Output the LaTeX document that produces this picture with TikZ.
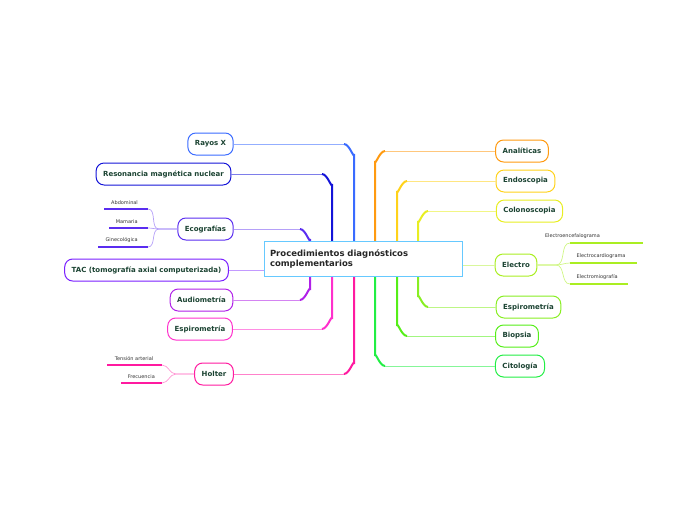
\documentclass[tikz,border=0pt]{standalone}
\usepackage{fontspec}
\setmainfont{DejaVu Sans}
\begin{document}
\begin{tikzpicture}[x=1pt,y=-1pt,
  box/.style={draw,line width=1pt,rounded corners=8pt,fill=white,minimum height=22pt,inner xsep=7pt,font=\bfseries\fontsize{7}{8}\selectfont,text=txt,anchor=center},
  sub/.style={font=\fontsize{5}{6}\selectfont,text=black!80},
  thin/.style={line width=0.7pt},
  trunk/.style={line width=2pt}]
\definecolor{txt}{HTML}{1B4332}
\definecolor{cA}{HTML}{3A6BFF}\definecolor{cB}{HTML}{1414D8}\definecolor{cC}{HTML}{5A2DF0}
\definecolor{cD}{HTML}{7A1FFF}\definecolor{cE}{HTML}{B020E8}\definecolor{cF}{HTML}{FF30CC}
\definecolor{cG}{HTML}{FF1AA0}
\definecolor{dA}{HTML}{FF9A10}\definecolor{dB}{HTML}{FFD21A}\definecolor{dC}{HTML}{E8EE22}
\definecolor{dD}{HTML}{AAEE22}\definecolor{dE}{HTML}{88EE22}\definecolor{dF}{HTML}{55EE18}
\definecolor{dG}{HTML}{22EE44}
\useasboundingbox (0,0) rectangle (697,520);
% left nodes
\node[box,draw=cA] (rx) at (210.5,144) {Rayos X};
\node[box,draw=cB] (rm) at (163.5,174) {Resonancia magnética nuclear};
\node[box,draw=cC] (ec) at (205.5,229) {Ecografías};
\node[box,draw=cD] (tac) at (146.5,270) {TAC (tomografía axial computerizada)};
\node[box,draw=cE] (au) at (201.5,300) {Audiometría};
\node[box,draw=cF] (el) at (200,329) {Espirometría};
\node[box,draw=cG] (ho) at (214,374) {Holter};
% right nodes
\node[box,draw=dA] (an) at (522,151) {Analíticas};
\node[box,draw=dB] (en) at (525.5,181) {Endoscopia};
\node[box,draw=dC] (co) at (529.5,211) {Colonoscopia};
\node[box,draw=dD] (ele) at (516,265) {Electro};
\node[box,draw=dE] (er) at (528.5,307) {Espirometría};
\node[box,draw=dF] (bi) at (517,336) {Biopsia};
\node[box,draw=dG] (ci) at (520,366) {Citología};
% left connectors
\draw[thin,cA!55] (rx.east) -- (344,144); \draw[trunk,cA] (344,144) to[out=0,in=-90] (354,154) -- (354,258);
\draw[thin,cB!55] (rm.east) -- (322,174); \draw[trunk,cB] (322,174) to[out=0,in=-90] (332,184) -- (332,258);
\draw[thin,cC!45] (ec.east) -- (300,229); \draw[trunk,cC] (300,229) to[out=0,in=-90] (310,239) -- (310,258);
\draw[thin,cD!45] (tac.east) -- (300,270);
\draw[thin,cE!55] (au.east) -- (300,300); \draw[trunk,cE] (300,300) to[out=0,in=90] (310,290) -- (310,262);
\draw[thin,cF!55] (el.east) -- (322,329); \draw[trunk,cF] (322,329) to[out=0,in=90] (332,319) -- (332,262);
\draw[thin,cG!55] (ho.east) -- (344,374); \draw[trunk,cG] (344,374) to[out=0,in=90] (354,364) -- (354,262);
% right connectors
\draw[thin,dA!55] (an.west) -- (385,151); \draw[trunk,dA] (385,151) to[out=180,in=-90] (375,161) -- (375,258);
\draw[thin,dB!55] (en.west) -- (407,181); \draw[trunk,dB] (407,181) to[out=180,in=-90] (397,191) -- (397,258);
\draw[thin,dC!55] (co.west) -- (428,211); \draw[trunk,dC] (428,211) to[out=180,in=-90] (418,221) -- (418,258);
\draw[thin,dD!45] (ele.west) -- (440,265);
\draw[thin,dE!55] (er.west) -- (428,307); \draw[trunk,dE] (428,307) to[out=180,in=90] (418,297) -- (418,262);
\draw[thin,dF!55] (bi.west) -- (407,336); \draw[trunk,dF] (407,336) to[out=180,in=90] (397,326) -- (397,262);
\draw[thin,dG!55] (ci.west) -- (385,366); \draw[trunk,dG] (385,366) to[out=180,in=90] (375,356) -- (375,262);
% center
\node[draw=blue!35!cyan!60,line width=1pt,fill=white,minimum width=198pt,minimum height=35pt,align=left,text width=186pt,font=\bfseries\fontsize{8.5}{10}\selectfont,text=black!85] (c) at (363,258.5) {Procedimientos diagnósticos\\complementarios};
% Ecografias subs
\coordinate (e1) at (148,209); \coordinate (e2) at (148,228); \coordinate (e3) at (148,247);
\foreach \c/\l in {e1/104,e2/109,e3/98}{\draw[thin,cC!45] (ec.west) -- (159,229) to[out=180,in=0] (\c);}
\draw[line width=1.5pt,cC] (e1) -- (104,209) node[sub,above right,pos=0.93] {Abdominal};
\draw[line width=1.5pt,cC] (e2) -- (109,228) node[sub,above right,pos=0.93] {Mamaria};
\draw[line width=1.5pt,cC] (e3) -- (98,247) node[sub,above right,pos=0.93] {Ginecológica};
% Holter subs
\coordinate (h1) at (162,365); \coordinate (h2) at (162,383);
\foreach \c in {h1,h2}{\draw[thin,cG!45] (ho.west) -- (176,374) to[out=180,in=0] (\c);}
\draw[line width=1.5pt,cG] (h1) -- (107,365) node[sub,above right,pos=0.93] {Tensión arterial};
\draw[line width=1.5pt,cG] (h2) -- (121,383) node[sub,above right,pos=0.93] {Frecuencia};
% Electro subs
\coordinate (l1) at (570,243); \coordinate (l2) at (570,263); \coordinate (l3) at (570,284);
\foreach \c in {l1,l2,l3}{\draw[thin,dD!55] (ele.east) -- (556,265) to[out=0,in=180] (\c);}
\draw[line width=1.5pt,dD] (l1) -- (643,243) node[sub,above left,pos=0.0,xshift=34pt] {Electroencefalograma};
\draw[line width=1.5pt,dD] (l2) -- (637,263) node[sub,above left,pos=0.0,xshift=34pt] {};
\node[sub,anchor=south west] (t2) at (573,262) {Electrocardiograma};
\node[sub,anchor=south west] (t3) at (573,283) {Electromiografía};
\draw[line width=1.5pt,dD] (l3) -- (628,284);
\end{tikzpicture}
\end{document}
